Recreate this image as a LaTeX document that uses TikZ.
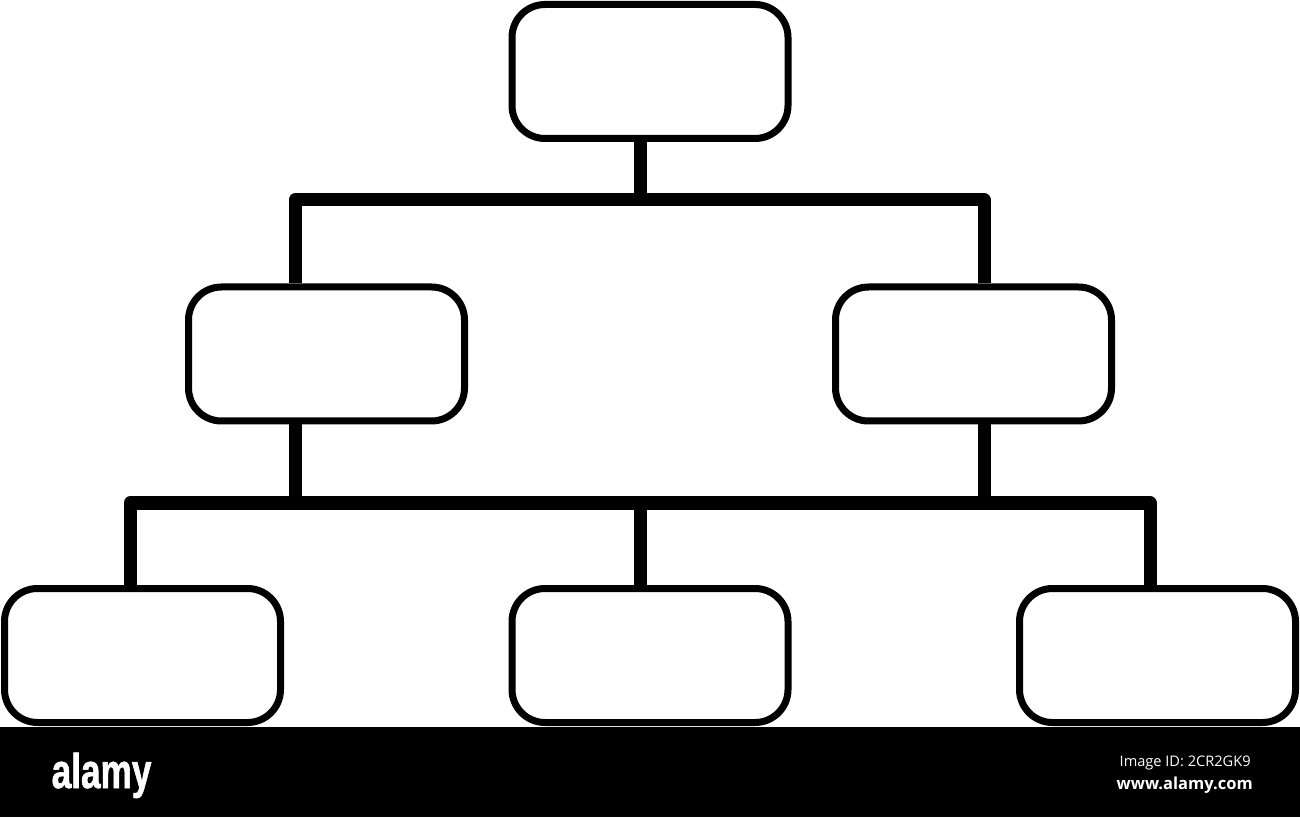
\documentclass[tikz,border=0pt]{standalone}
\usepackage{fontspec}
\usepackage{tikz}
\newfontfamily\brandfont[FakeStretch=0.72,FakeBold=1.2]{Liberation Sans Bold}
\newfontfamily\idfont{Open Sans}
\begin{document}
\begin{tikzpicture}[box/.style={draw,line width=0.07cm,rounded corners=0.33cm,minimum width=2.76cm,minimum height=1.34cm,inner sep=0pt},
    link/.style={line width=0.13cm,line join=round}]
    \useasboundingbox (0,0) rectangle (13,8.17);
    \node[box] (top) at (6.50,7.455) {};
    \node[box] (midL) at (3.265,4.63) {};
    \node[box] (midR) at (9.735,4.63) {};
    \node[box] (botL) at (1.425,1.615) {};
    \node[box] (botM) at (6.50,1.615) {};
    \node[box] (botR) at (11.575,1.615) {};
    \coordinate (tm) at (6.40,6.17);
    \coordinate (tl) at (2.95,6.17);
    \coordinate (tr) at (9.84,6.17);
    \coordinate (bm) at (6.40,3.14);
    \coordinate (bl) at (1.30,3.14);
    \coordinate (br) at (11.50,3.14);
    \coordinate (ml) at (2.95,3.14);
    \coordinate (mr) at (9.84,3.14);
    \draw[link] (top.south -| tm) to (tm);
    \draw[link] (midL.north -| tl) -- (tl) -- (tr) -- (midR.north -| tr);
    \draw[link] (midL.south -| ml) to (ml);
    \draw[link] (midR.south -| mr) to (mr);
    \draw[link] (botL.north -| bl) -- (bl) -- (br) -- (botR.north -| br);
    \draw[link] (bm) to (botM.north -| bm);
    \fill (0,0) rectangle (13,0.90);
    \node[white,anchor=base west,inner sep=0pt] (brand) at (0.51,0.29) {\brandfont\fontsize{13.9}{14}\selectfont alamy};
    \node[white,anchor=base west,inner sep=0pt] (imgid) at (11.19,0.51) {\idfont\fontsize{4.15}{5}\selectfont Image ID: 2CR2GK9};
    \node[white,anchor=base west,inner sep=0pt] (site) at (11.16,0.28) {\idfont\bfseries\fontsize{4.7}{5}\selectfont www.alamy.com};
\end{tikzpicture}
\end{document}
